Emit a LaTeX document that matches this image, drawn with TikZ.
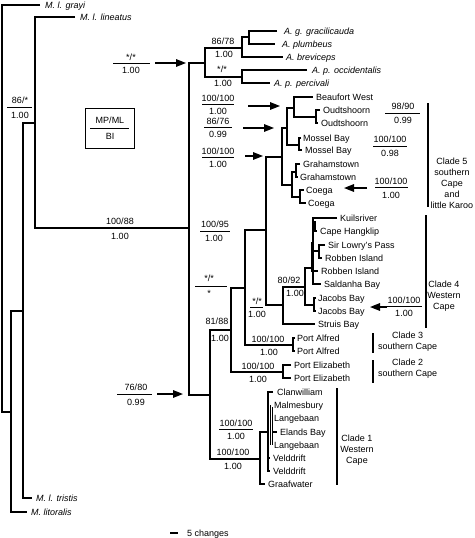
\documentclass[tikz,border=0pt]{standalone}
\usepackage{fontspec}
\setmainfont{Liberation Sans}
\usetikzlibrary{arrows.meta}
\newcommand\figfs{\fontsize{9}{11}\selectfont}
\begin{document}
\begin{tikzpicture}[x=1pt,y=-1pt,
  tree/.style={line width=1.25pt},
  thin/.style={line width=0.8pt},
  bar/.style={line width=1pt},
  arr/.style={line width=1.5pt,-{Triangle[length=10pt,width=7.5pt]}},
  tip/.style={anchor=west,inner sep=0pt,font=\figfs,text height=6.4pt,text depth=0pt},
  sp/.style={tip,font=\figfs\itshape},
  num/.style={inner sep=0pt,font=\figfs,text height=6.4pt,text depth=0pt},
  clade/.style={inner sep=0pt,font=\figfs,align=center}]
\useasboundingbox[fill=white] (0,0) rectangle (474,538);
% ---------- outgroups / backbone
\draw[tree] (40,5) -| (2,412) -- (11,412);
\draw[tree] (23,311) -| (11,512) -- (27,512);
\draw[tree] (35,123) -| (23,498) -- (32,498);
\draw[tree] (75,17) -| (35,228) -- (189,228);
\draw[tree] (205,63) -| (189,395) -- (210,395);
% ---------- Acontias
\draw[tree] (242,48) -| (205,77) -- (242,77);
\draw[tree] (249,37) -| (242,57) -- (283,57);
\draw[tree] (277,31) -| (249,44) -- (275,44);
\draw[tree] (307,70) -| (242,83) -- (270,83);
% ---------- ingroup
\draw[tree] (231,330) -| (210,459) -- (260,459);
\draw[tree] (245,288) -| (231,372) -- (283,372);
\draw[tree] (266,230) -| (245,345) -- (293,345);
\draw[tree] (282,157) -| (266,305) -- (283,305);
% clade 5
\draw[tree] (287,128) -| (282,185) -- (292,185);
\draw[tree] (294,108) -| (287,145) -- (299,145);
\draw[tree] (313,97) -| (294,117) -- (316,117);
\draw[tree] (320,110) -| (316,123) -- (318,123);
\draw[tree] (301,138) -| (299,150) -- (302,150);
\draw[tree] (296,172) -| (292,197) -- (300,197);
\draw[tree] (300,164) -| (296,177) -- (298,177);
\draw[tree] (304,190) -| (300,203) -- (306,203);
% clade 4
\draw[tree] (305,287) -| (283,324) -- (315,324);
\draw[tree] (312,268) -| (305,305) -- (314,305);
\draw[tree] (316,298) -| (314,311) -- (316,311);
\draw[tree] (337,218) -| (313,284) -- (321,284);
\draw[tree] (315,221) -- (315,232);
\draw[tree] (313,231) -- (317,231);
\draw[tree] (313,251) -- (319,251);
\draw[tree] (325,245) -| (319,258) -- (322,258);
\draw[thin] (311,242) -- (311,272);
\draw[tree] (311,271) -- (318,271);
% clades 3 and 2
\draw[tree] (295,338) -| (293,351) -- (295,351);
\draw[tree] (291,365) -| (283,378) -- (291,378);
% clade 1
\draw[tree] (268,432) -| (260,484) -- (265,484);
\draw[tree] (273,392) -| (268,471) -- (270,471);
\draw[thin] (270,405) -- (270,445);
\draw[thin] (272.2,407) -- (272.2,445);
\draw[tree] (272,432) -- (277,432);
\draw[tree] (268,458) -- (270,458);
% ---------- tip labels
\node[sp] (t1) at (45,5) {M. l. grayi};
\node[sp] (t2) at (80,17) {M. l. lineatus};
\node[sp] (t3) at (284,31) {A. g. gracilicauda};
\node[sp] (t4) at (282,44) {A. plumbeus};
\node[sp] (t5) at (286,57) {A. breviceps};
\node[sp] (t6) at (312,70) {A. p. occidentalis};
\node[sp] (t7) at (274,83) {A. p. percivali};
\node[tip] (c5a) at (316,97) {Beaufort West};
\node[tip] (c5b) at (323,110) {Oudtshoorn};
\node[tip] (c5c) at (321,123) {Oudtshoorn};
\node[tip] (c5d) at (303,138) {Mossel Bay};
\node[tip] (c5e) at (305,150) {Mossel Bay};
\node[tip] (c5f) at (303,164) {Grahamstown};
\node[tip] (c5g) at (300,177) {Grahamstown};
\node[tip] (c5h) at (306,190) {Coega};
\node[tip] (c5i) at (308,203) {Coega};
\node[tip] (c4a) at (340,218) {Kuilsriver};
\node[tip] (c4b) at (320,231) {Cape Hangklip};
\node[tip] (c4c) at (328,245) {Sir Lowry's Pass};
\node[tip] (c4d) at (325,258) {Robben Island};
\node[tip] (c4e) at (321,271) {Robben Island};
\node[tip] (c4f) at (324,284) {Saldanha Bay};
\node[tip] (c4g) at (318,298) {Jacobs Bay};
\node[tip] (c4h) at (318,311) {Jacobs Bay};
\node[tip] (c4i) at (318,324) {Struis Bay};
\node[tip] (c3a) at (297,338) {Port Alfred};
\node[tip] (c3b) at (297,351) {Port Alfred};
\node[tip] (c2a) at (294,365) {Port Elizabeth};
\node[tip] (c2b) at (294,378) {Port Elizabeth};
\node[tip] (c1a) at (277,392) {Clanwilliam};
\node[tip] (c1b) at (274,405) {Malmesbury};
\node[tip] (c1c) at (274,418) {Langebaan};
\node[tip] (c1d) at (280,432) {Elands Bay};
\node[tip] (c1e) at (274,445) {Langebaan};
\node[tip] (c1f) at (273,458) {Velddrift};
\node[tip] (c1g) at (273,471) {Velddrift};
\node[tip] (c1h) at (268,484) {Graafwater};
\node[sp] (t8) at (36,498) {M. l. tristis};
\node[sp] (t9) at (31,512) {M. litoralis};
% ---------- clade bars and names
\draw[tree] (428,103) -- (428,207);
\draw[tree] (426,215) -- (426,328);
\draw[tree] (373,333) -- (373,353);
\draw[tree] (373,360) -- (373,383);
\draw[tree] (337,388) -- (337,485);
\node[clade] (n5) at (452,183) {Clade 5\\southern\\Cape\\and\\little Karoo};
\node[clade] (n4) at (444,296) {Clade 4\\Western\\Cape};
\node[clade,anchor=west] (n3) at (378,342) {Clade 3\\southern Cape};
\node[clade,anchor=west] (n2) at (378,369) {Clade 2\\southern Cape};
\node[clade] (n1) at (357,450) {Clade 1\\Western\\Cape};
% ---------- support values
\node[num] (s1a) at (131,57) {*/*};
\draw[bar] (113,63) -- (150,63);
\node[num] (s1b) at (131,70) {1.00};
\node[num] (s2a) at (20,100) {86/*};
\draw[bar] (7,107) -- (32,107);
\node[num] (s2b) at (20,115) {1.00};
\node[num] (s3a) at (223,41) {86/78};
\node[num] (s3b) at (224,54) {1.00};
\node[num] (s4a) at (222,69) {*/*};
\node[num] (s4b) at (223,83) {1.00};
\node[num] (s5a) at (218,98) {100/100};
\draw[bar] (202,104) -- (234,104);
\node[num] (s5b) at (218,111) {1.00};
\node[num] (s6a) at (218,121) {86/76};
\draw[bar] (204,127) -- (232,127);
\node[num] (s6b) at (218,134) {0.99};
\node[num] (s7a) at (218,151) {100/100};
\draw[bar] (202,157) -- (234,157);
\node[num] (s7b) at (218,164) {1.00};
\node[num] (s8a) at (120,221) {100/88};
\node[num] (s8b) at (120,236) {1.00};
\node[num] (s9a) at (215,224) {100/95};
\draw[bar] (200,231) -- (230,231);
\node[num] (s9b) at (214,238) {1.00};
\node[num] (s10a) at (209,278) {*/*};
\draw[bar] (195,286) -- (227,286);
\node[num] (s10b) at (209,293) {*};
\node[num] (s11a) at (217,321) {81/88};
\node[num] (s11b) at (220,338) {1.00};
\node[num] (s12a) at (257,301) {*/*};
\draw[bar] (250,307) -- (263,307);
\node[num] (s12b) at (257,314) {1.00};
\node[num] (s13a) at (289,280) {80/92};
\node[num] (s13b) at (295,293) {1.00};
\node[num] (s14a) at (268,339) {100/100};
\node[num] (s14b) at (269,352) {1.00};
\node[num] (s15a) at (258,366) {100/100};
\node[num] (s15b) at (258,379) {1.00};
\node[num] (s16a) at (136,387) {76/80};
\draw[bar] (117,394) -- (152,394);
\node[num] (s16b) at (136,402) {0.99};
\node[num] (s17a) at (236,423) {100/100};
\draw[bar] (219,429) -- (253,429);
\node[num] (s17b) at (236,436) {1.00};
\node[num] (s18a) at (233,452) {100/100};
\node[num] (s18b) at (233,466) {1.00};
\node[num] (s19a) at (403,106) {98/90};
\draw[bar] (385,113) -- (420,113);
\node[num] (s19b) at (403,120) {0.99};
\node[num] (s20a) at (390,139) {100/100};
\draw[bar] (373,146) -- (407,146);
\node[num] (s20b) at (390,153) {0.98};
\node[num] (s21a) at (391,181) {100/100};
\draw[bar] (375,187) -- (408,187);
\node[num] (s21b) at (391,195) {1.00};
\node[num] (s22a) at (404,300) {100/100};
\draw[bar] (387,306) -- (422,306);
\node[num] (s22b) at (404,313) {1.00};
% ---------- arrows
\coordinate (a1s) at (155,63);  \coordinate (a1e) at (186,63);
\coordinate (a2s) at (248,106); \coordinate (a2e) at (280,106);
\coordinate (a3s) at (243,128); \coordinate (a3e) at (274,128);
\coordinate (a4s) at (245,156); \coordinate (a4e) at (263,156);
\coordinate (a5s) at (367,188); \coordinate (a5e) at (344,188);
\coordinate (a6s) at (387,307); \coordinate (a6e) at (370,307);
\coordinate (a7s) at (157,394); \coordinate (a7e) at (183,394);
\foreach \i in {1,...,7} \draw[arr] (a\i s) -- (a\i e);
% ---------- key box
\node[draw,line width=1pt,minimum width=49pt,minimum height=40pt,inner sep=0pt] (key) at (109.5,128) {};
\node[num] (keya) at (110,120) {MP/ML};
\draw[bar] (90,128) -- (129,128);
\node[num] (keyb) at (110,136) {BI};
% ---------- scale
\coordinate (sc1) at (170,533); \coordinate (sc2) at (178,533);
\draw[tree] (sc1) -- (sc2);
\node[tip] (scl) at (187,533) {5 changes};
\end{tikzpicture}
\end{document}
